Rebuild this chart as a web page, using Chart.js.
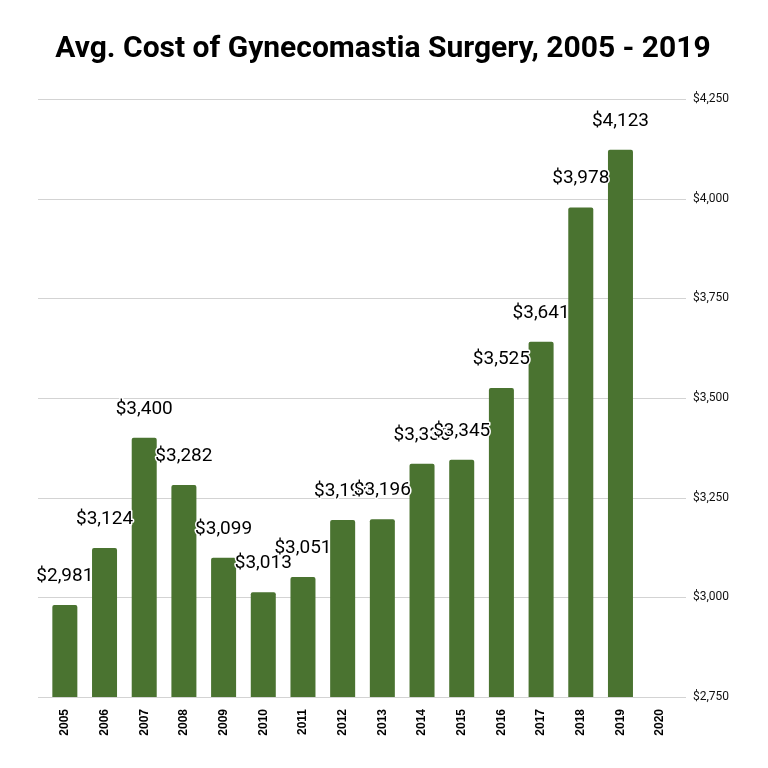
<!DOCTYPE html>
<html>
<head>
<meta charset="utf-8">
<script src="https://cdn.jsdelivr.net/npm/chart.js@4.4.1/dist/chart.umd.min.js"></script>
<style>
html,body{margin:0;padding:0;background:#fff;}
#wrap{width:768px;height:768px;}
</style>
</head>
<body>
<div id="wrap"><canvas id="c" width="768" height="768"></canvas></div>
<script>
const years = ['2005','2006','2007','2008','2009','2010','2011','2012','2013','2014','2015','2016','2017','2018','2019','2020'];
const avgCost = [2981, 3124, 3400, 3282, 3099, 3013, 3051, 3194, 3196, 3335, 3345, 3525, 3641, 3978, 4123, null];
const yMin = 2750;
const yMax = 4250;
const yStep = 250;
const titleText = 'Avg. Cost of Gynecomastia Surgery, 2005 - 2019';

const fmt = v => '$' + Number(v).toLocaleString('en-US');

const gridPlugin = {
  id: 'customGrid',
  beforeDatasetsDraw(chart) {
    const ctx = chart.ctx, ys = chart.scales.y, a = chart.chartArea;
    ctx.save();
    ctx.strokeStyle = '#d3d3d3';
    ctx.lineWidth = 1;
    ys.ticks.forEach(t => {
      const py = Math.round(ys.getPixelForValue(t.value)) + 0.5;
      ctx.beginPath();
      ctx.moveTo(a.left - 7, py);
      ctx.lineTo(a.right + 6, py);
      ctx.stroke();
    });
    ctx.restore();
  }
};

const titlePlugin = {
  id: 'pageTitle',
  afterDraw(chart) {
    const ctx = chart.ctx;
    ctx.save();
    ctx.font = '700 30px Roboto';
    ctx.textAlign = 'center';
    ctx.textBaseline = 'middle';
    ctx.fillStyle = '#000';
    ctx.fillText(titleText, 383, 49);
    ctx.restore();
  }
};

const labelPlugin = {
  id: 'valueLabels',
  afterDatasetsDraw(chart) {
    const ctx = chart.ctx;
    const meta = chart.getDatasetMeta(0);
    ctx.save();
    ctx.font = '400 19px Roboto';
    ctx.textAlign = 'center';
    ctx.textBaseline = 'alphabetic';
    ctx.lineJoin = 'round';
    meta.data.forEach((el, i) => {
      const v = avgCost[i];
      if (v == null) return;
      const txt = fmt(v);
      const x = el.x, y = el.y - 24;
      ctx.strokeStyle = '#ffffff';
      ctx.lineWidth = 3;
      ctx.strokeText(txt, x, y);
      ctx.fillStyle = '#000000';
      ctx.fillText(txt, x, y);
    });
    ctx.restore();
  }
};

new Chart(document.getElementById('c'), {
  type: 'bar',
  data: {
    labels: years,
    datasets: [{
      data: avgCost,
      backgroundColor: '#4a7330',
      borderRadius: {topLeft: 2, topRight: 2, bottomLeft: 0, bottomRight: 0},
      borderSkipped: 'bottom',
      barPercentage: 0.63,
      categoryPercentage: 1.0
    }]
  },
  options: {
    responsive: false,
    animation: false,
    devicePixelRatio: 1,
    layout: { padding: { left: 45, right: 0, top: 99, bottom: 0 } },
    plugins: {
      legend: { display: false },
      tooltip: { enabled: false },
      title: { display: false }
    },
    scales: {
      x: {
        grid: { display: false },
        border: { display: false },
        ticks: {
          color: '#000',
          font: { family: '"Liberation Sans", Arial', weight: '700', size: 12 },
          minRotation: 90,
          maxRotation: 90,
          autoSkip: false,
          padding: 4
        },
        afterFit(scale) { scale.height = 71; }
      },
      y: {
        position: 'right',
        min: yMin,
        max: yMax,
        grid: { display: false, drawTicks: false },
        border: { display: false },
        ticks: {
          stepSize: yStep,
          color: '#111',
          font: { family: 'Roboto', size: 12 },
          padding: 13,
          callback: v => fmt(v)
        },
        afterFit(scale) { scale.width = 88; }
      }
    }
  },
  plugins: [gridPlugin, labelPlugin, titlePlugin]
});
</script>
</body>
</html>
